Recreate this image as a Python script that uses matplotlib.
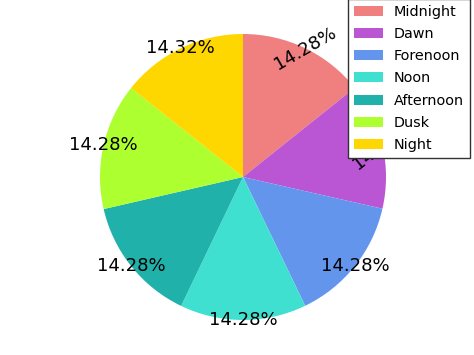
import matplotlib
matplotlib.use("Agg")
import matplotlib.pyplot as plt

# slices of the day
labels = ["Midnight", "Dawn", "Forenoon", "Noon", "Afternoon", "Dusk", "Night"]
shares = [14.28, 14.28, 14.28, 14.28, 14.28, 14.28, 14.32]
colors = ["lightcoral", "mediumorchid", "cornflowerblue", "turquoise",
          "lightseagreen", "greenyellow", "gold"]
label_rotation = [30, 38, 0, 0, 0, 0, 0]

fig = plt.figure(figsize=(4.74, 3.55), dpi=100)
ax = fig.add_axes([0, 0, 1, 1])

wedges, texts, autotexts = ax.pie(shares, colors=colors, startangle=90,
                                  counterclock=False, autopct='%.2f%%',
                                  pctdistance=1.0,
                                  textprops={'fontsize': 13})
for t, r in zip(autotexts, label_rotation):
    t.set_rotation(r)

# place the pie: center (243, 177) px, radius 143 px
r = 143.0
ax.set_xlim(-243 / r, (474 - 243) / r)
ax.set_ylim(-178 / r, 177 / r)
ax.axis('off')

leg = ax.legend(wedges, labels, loc='upper right', fontsize=10.4, labelspacing=0.57,
                bbox_to_anchor=(470 / 474, 1 + 1 / 355), bbox_transform=fig.transFigure,
                borderaxespad=0, fancybox=False, framealpha=1, edgecolor='#333333')
leg.get_frame().set_linewidth(1.0)

fig.savefig("out.png", dpi=100)
